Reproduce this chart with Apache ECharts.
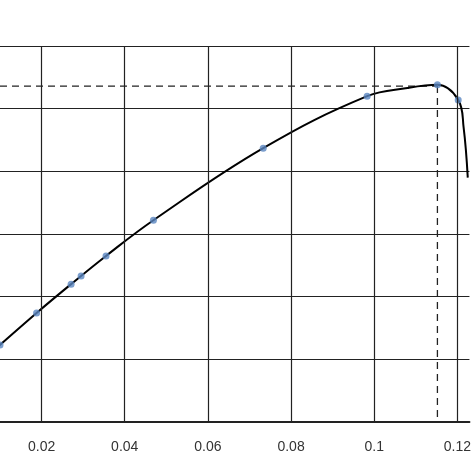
<!DOCTYPE html>
<html><head><meta charset="utf-8">
<script src="https://cdn.jsdelivr.net/npm/echarts@6/dist/echarts.min.js"></script>
<style>html,body{margin:0;padding:0;background:#fff}#c{width:474px;height:474px}</style>
</head><body><div id="c"></div>
<script>
const pointX = [0.0100, 0.0188, 0.0271, 0.0295, 0.0355, 0.0469, 0.0733, 0.0983, 0.1152, 0.1202];
const pointY = [1.23, 1.74, 2.20, 2.33, 2.65, 3.22, 4.37, 5.20, 5.38, 5.14];
const curveX = [0.004, 0.0100, 0.0188, 0.0271, 0.0355, 0.0469, 0.0733, 0.0983, 0.108, 0.1152, 0.1202, 0.1215, 0.1225];
const curveY = [0.88, 1.23, 1.74, 2.20, 2.65, 3.22, 4.37, 5.20, 5.33, 5.38, 5.14, 4.7, 3.9];
const peakX = 0.1152, peakY = 5.36;
const xTicks = [0.02, 0.04, 0.06, 0.08, 0.1, 0.12];

const chart = echarts.init(document.getElementById('c'));
chart.setOption({
  animation: false,
  grid: {left: 0, right: 0, top: 46, bottom: 52},
  xAxis: {type: 'value', min: 0.01, max: 0.1229,
    axisLine: {show: true, lineStyle: {color: '#222', width: 2}},
    axisTick: {show: false},
    splitLine: {show: false},
    axisLabel: {color: '#333', fontSize: 14, fontFamily: 'Liberation Sans', margin: 18,
      customValues: xTicks, formatter: v => String(+v.toFixed(2))}},
  yAxis: {type: 'value', min: 0, max: 6, interval: 1,
    axisLine: {show: false}, axisTick: {show: false}, axisLabel: {show: false},
    splitLine: {show: true, lineStyle: {color: '#222', width: 1.2}}},
  series: [
    {type: 'line', data: [], symbol: 'none', silent: true,
      markLine: {silent: true, symbol: 'none', label: {show: false},
        lineStyle: {color: '#222', width: 1.2, type: 'solid'},
        data: xTicks.map(t => ({xAxis: t}))}},
    {type: 'line', data: [[0.01, peakY], [peakX, peakY]], symbol: 'none',
      lineStyle: {color: '#222', width: 1.3, type: [7, 5]}, z: 2},
    {type: 'line', data: [[peakX, peakY], [peakX, 0]], symbol: 'none',
      lineStyle: {color: '#222', width: 1.3, type: [7, 5]}, z: 2},
    {type: 'line', smooth: 0.4, data: curveX.map((x, i) => [x, curveY[i]]), symbol: 'none',
      lineStyle: {color: '#000', width: 2}, z: 3},
    {type: 'scatter', data: pointX.map((x, i) => [x, pointY[i]]), symbolSize: 7,
      itemStyle: {color: '#5a86c0'}, z: 4}
  ]
});
</script></body></html>
